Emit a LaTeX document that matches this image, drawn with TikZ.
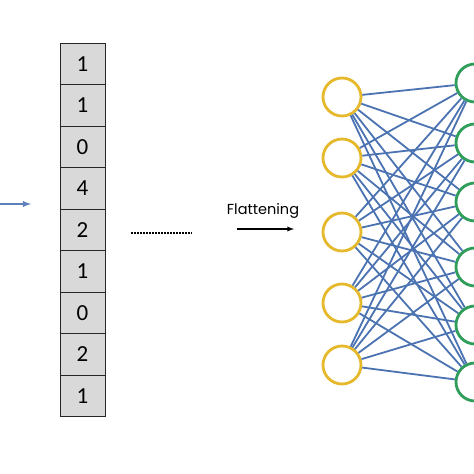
\documentclass[tikz,border=0pt]{standalone}
\usepackage{fontspec}
\setmainfont{Carlito}
\newfontfamily\labelfont{Poppins}
\definecolor{yellowring}{HTML}{E6B92C}
\definecolor{greenring}{HTML}{2F9E5A}
\definecolor{linkblue}{HTML}{4B73B2}
\definecolor{cellgray}{HTML}{D9D9D9}

\begin{document}
\begin{tikzpicture}[x=1pt,y=-1pt,
    cell/.style={draw=black!85,fill=cellgray,line width=1pt,minimum width=45pt,minimum height=41.5pt,inner sep=0pt,font=\fontsize{23}{23}\selectfont},
    inlayer/.style={circle,draw=yellowring,fill=white,line width=2.8pt,minimum size=38pt,inner sep=0pt},
    outlayer/.style={circle,draw=greenring,fill=white,line width=2.8pt,minimum size=38pt,inner sep=0pt},
    link/.style={linkblue,line width=1.8pt},
    feed/.style={-latex,line width=1.3pt}]
  \clip (0,0) rectangle (474,474);
  \fill[white] (0,0) rectangle (474,474);

  % column of values
  \foreach \v [count=\k] in {1,1,0,4,2,1,0,2,1}
    \node[cell] (c\k) at (82.5,{43+41.5*(\k-0.5)}) {\v};

  % arrow into the column
  \coordinate (inA) at (0,204);
  \coordinate (inB) at (31,204);
  \draw[feed,draw=linkblue!90!white,line width=1.8pt] (inA) -- (inB);

  % dots and flattening step
  \coordinate (dotA) at (131,233);
  \coordinate (dotB) at (192,233);
  \draw[line width=2pt,densely dotted] (dotA) -- (dotB);

  \node[font=\labelfont\fontsize{14.5}{15}\selectfont] (flat) at (263,211) {Flattening};
  \coordinate (flatA) at (237,229);
  \coordinate (flatB) at (294,229);
  \draw[feed] (flatA) -- (flatB);

  % network layers
  \foreach \y [count=\k] in {97,158,232,303,365}
    \node[inlayer] (i\k) at (342,\y) {};
  \foreach \y [count=\k] in {83,143,202,267,325,382}
    \node[outlayer] (o\k) at (475,\y) {};

  \foreach \a in {1,...,5}
    \foreach \b in {1,...,6}
      \draw[link] (i\a) -- (o\b);
\end{tikzpicture}
\end{document}
